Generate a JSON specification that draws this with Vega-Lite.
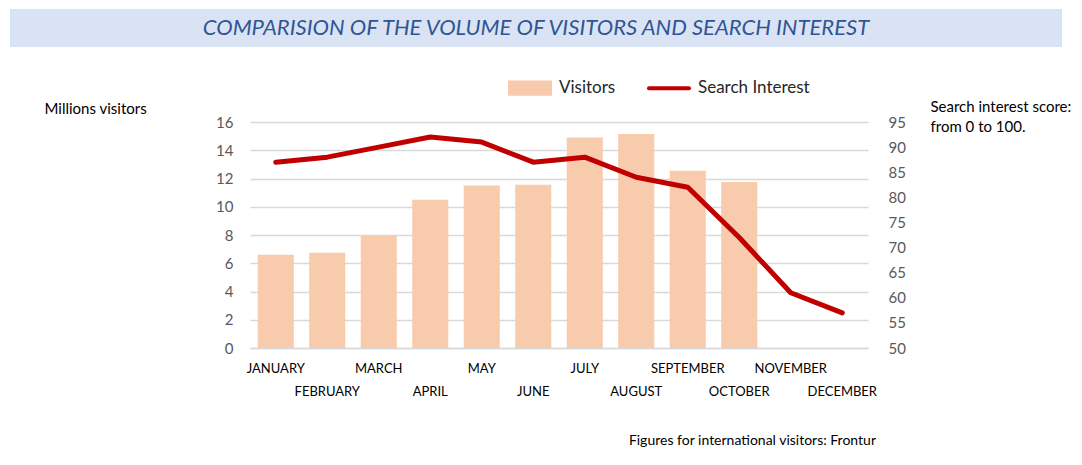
{
  "$schema": "https://vega.github.io/schema/vega-lite/v6.json",
  "padding": {"left": 10, "top": 9, "right": 0, "bottom": 0},
  "config": {
    "view": {"stroke": null},
    "font": "Lato",
    "text": {"font": "Lato"}
  },
  "align": "none",
  "spacing": 52,
  "vconcat": [
    {
      "width": 1052,
      "height": 38,
      "view": {"fill": "#DAE3F3", "stroke": null},
      "data": {"values": [{"heading": "COMPARISION OF THE VOLUME OF VISITORS AND SEARCH INTEREST"}]},
      "mark": {"type": "text", "fontSize": 22, "fontStyle": "italic", "color": "#2F5597", "baseline": "middle", "align": "center"},
      "encoding": {"text": {"field": "heading", "type": "nominal"}}
    },
    {
      "spacing": 0,
      "hconcat": [
        {
          "width": 34,
          "height": 10,
          "data": {"values": []},
          "mark": "text",
          "encoding": {}
        },
        {
          "width": 618,
          "height": 226,
          "title": {
            "text": "Figures for international visitors: Frontur",
            "orient": "bottom",
            "anchor": "end",
            "frame": "group",
            "dx": 8,
            "offset": 36,
            "fontSize": 14,
            "fontWeight": "normal",
            "color": "#000000",
            "font": "Lato"
          },
          "data": {
            "values": [
              {"month": "JANUARY", "visitors": 6.6, "interest": 87},
              {"month": "FEBRUARY", "visitors": 6.75, "interest": 88},
              {"month": "MARCH", "visitors": 7.95, "interest": 90},
              {"month": "APRIL", "visitors": 10.5, "interest": 92},
              {"month": "MAY", "visitors": 11.5, "interest": 91},
              {"month": "JUNE", "visitors": 11.55, "interest": 87},
              {"month": "JULY", "visitors": 14.9, "interest": 88},
              {"month": "AUGUST", "visitors": 15.15, "interest": 84},
              {"month": "SEPTEMBER", "visitors": 12.55, "interest": 82},
              {"month": "OCTOBER", "visitors": 11.75, "interest": 72},
              {"month": "NOVEMBER", "visitors": null, "interest": 61},
              {"month": "DECEMBER", "visitors": null, "interest": 57}
            ]
          },
          "encoding": {
            "x": {
              "field": "month",
              "type": "ordinal",
              "sort": null,
              "scale": {"paddingInner": 0.3, "paddingOuter": 0.15},
              "axis": {
                "title": null,
                "labelAngle": 0,
                "labelFontSize": 13,
                "labelColor": "#000000",
                "labelFont": "Lato",
                "labelBaseline": "top",
                "labelPadding": {
                  "condition": {"test": "indexof(['FEBRUARY','APRIL','JUNE','AUGUST','OCTOBER','DECEMBER'], datum.value) >= 0", "value": 37},
                  "value": 14
                },
                "ticks": false,
                "grid": false,
                "domain": true,
                "domainColor": "#D9D9D9",
                "domainWidth": 1.5
              }
            }
          },
          "layer": [
            {
              "mark": {"type": "bar"},
              "encoding": {
                "y": {
                  "field": "visitors",
                  "type": "quantitative",
                  "scale": {"domain": [0, 16], "nice": false},
                  "axis": {
                    "orient": "left",
                    "values": [0, 2, 4, 6, 8, 10, 12, 14, 16],
                    "title": "Millions visitors",
                    "titleAngle": 0,
                    "titleX": -206,
                    "titleY": -9,
                    "titleAlign": "left",
                    "titleBaseline": "alphabetic",
                    "titleFontSize": 15,
                    "titleFontWeight": "normal",
                    "titleColor": "#000000",
                    "titleFont": "Lato",
                    "grid": true,
                    "gridColor": "#D9D9D9",
                    "gridWidth": 1.5,
                    "domain": false,
                    "ticks": false,
                    "labelPadding": 17,
                    "labelFontSize": 15,
                    "labelColor": "#595959",
                    "labelFont": "Lato"
                  }
                },
                "color": {
                  "datum": "Visitors",
                  "scale": {"domain": ["Visitors", "Search Interest"], "range": ["#F8CBAD", "#C00000"]},
                  "legend": {
                    "orient": "none",
                    "legendX": 498,
                    "legendY": 57,
                    "direction": "horizontal",
                    "title": null,
                    "labelFontSize": 17,
                    "labelColor": "#262626",
                    "labelFont": "Lato",
                    "symbolSize": 1600,
                    "labelOffset": 7,
                    "columnPadding": 25,
                    "encode": {
                      "symbols": {
                        "update": {
                          "shape": {"signal": "datum.value === 'Visitors' ? 'M-1,-0.28H1V0.28H-1Z' : 'M-1,-0.28M-1,0H1M1,0.28'"},
                          "fill": {"signal": "datum.value === 'Visitors' ? '#F8CBAD' : 'transparent'"},
                          "stroke": {"signal": "datum.value === 'Visitors' ? 'transparent' : '#C00000'"},
                          "strokeWidth": {"value": 4},
                          "strokeCap": {"value": "round"},
                          "opacity": {"value": 1}
                        }
                      }
                    }
                  }
                }
              }
            },
            {
              "mark": {"type": "line", "strokeWidth": 5, "strokeCap": "round", "strokeJoin": "round"},
              "encoding": {
                "y": {
                  "field": "interest",
                  "type": "quantitative",
                  "scale": {"domain": [50, 95], "nice": false, "zero": false},
                  "axis": {
                    "orient": "right",
                    "values": [50, 55, 60, 65, 70, 75, 80, 85, 90, 95],
                    "title": ["Search interest score:", "from 0 to 100."],
                    "titleAngle": 0,
                    "titleX": 62,
                    "titleY": -11,
                    "titleAlign": "left",
                    "titleBaseline": "alphabetic",
                    "titleLineHeight": 20,
                    "titleFontSize": 15,
                    "titleFontWeight": "normal",
                    "titleColor": "#000000",
                    "titleFont": "Lato",
                    "grid": false,
                    "domain": false,
                    "ticks": false,
                    "labelPadding": 20,
                    "labelFontSize": 15,
                    "labelColor": "#595959",
                    "labelFont": "Lato"
                  }
                },
                "color": {"datum": "Search Interest"}
              }
            }
          ],
          "resolve": {"scale": {"y": "independent"}}
        }
      ]
    }
  ]
}
